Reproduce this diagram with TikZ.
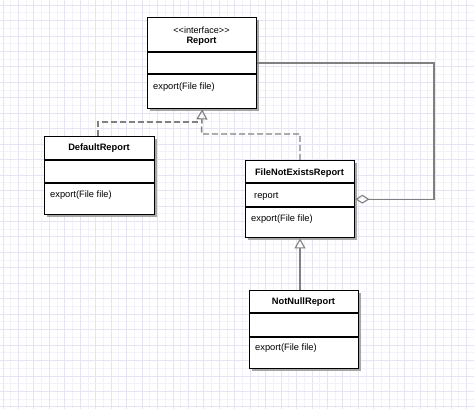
\documentclass[tikz,border=0pt]{standalone}
\usepackage{fontspec}
\setmainfont{Liberation Sans}
\usetikzlibrary{arrows.meta,shadows}
\definecolor{gridc}{RGB}{228,228,244}
\definecolor{gridm}{RGB}{242,242,250}
\definecolor{conn}{RGB}{128,128,128}
\tikzset{
  classbox/.style={draw=black, line width=1.4pt, fill=white, anchor=north west, inner sep=0pt,
    drop shadow={shadow xshift=2pt, shadow yshift=-2pt, fill=black!35, opacity=1}},
  divider/.style={draw=black, line width=1.4pt},
  titletext/.style={font=\fontsize{9.3}{11}\selectfont\bfseries, inner sep=0pt},
  stereo/.style={font=\fontsize{9.1}{11}\selectfont, inner sep=0pt},
  membertext/.style={font=\fontsize{9.3}{11}\selectfont, inner sep=0pt, anchor=west},
  realize/.style={draw=conn, line width=1.4pt, dash pattern=on 6pt off 3pt,
    -{Triangle[open, length=10pt, width=11pt, line width=1.1pt]}},
  realizeplain/.style={draw=conn, line width=1.4pt, dash pattern=on 6pt off 3pt},
  inherit/.style={draw=conn, line width=1.4pt,
    -{Triangle[open, length=10pt, width=11pt, line width=1.1pt]}},
  aggreg/.style={draw=conn, line width=1.4pt,
    -{Diamond[open, length=14pt, width=9pt, line width=1.1pt]}}
}
\begin{document}
\begin{tikzpicture}[x=1pt,y=-1pt]
\useasboundingbox (0,0) rectangle (474,409);
\fill[white] (0,0) rectangle (474,409);
% grid
\foreach \i in {0,...,30} {
  \draw[gridm, line width=0.5pt] ({2.85+15.45*\i+7.7},0) -- ({2.85+15.45*\i+7.7},409);
  \draw[gridm, line width=0.5pt] (0,{5+15.45*\i+7.7}) -- (474,{5+15.45*\i+7.7});
}
\foreach \i in {0,...,30} {
  \draw[gridc, line width=0.6pt] ({2.85+15.45*\i},0) -- ({2.85+15.45*\i},409);
  \draw[gridc, line width=0.6pt] (0,{5+15.45*\i}) -- (474,{5+15.45*\i});
}

% Report
\node[classbox, minimum width=109pt, minimum height=91pt] (report) at (147,17) {};
\draw[divider] (147,52) -- (256,52);
\draw[divider] (147,74) -- (256,74);
\node[stereo] (reportst) at (201.5,30) {{<}{<}interface{>}{>}};
\node[titletext] (reportt) at (201.5,41) {Report};
\node[membertext] (reportm) at (153,87) {export(File file)};

% DefaultReport
\node[classbox, minimum width=110pt, minimum height=78pt] (dflt) at (44,136) {};
\draw[divider] (44,160) -- (154,160);
\draw[divider] (44,183) -- (154,183);
\node[titletext] (dfltt) at (99,148) {DefaultReport};
\node[membertext] (dfltm) at (50,195) {export(File file)};

% FileNotExistsReport
\node[classbox, minimum width=109pt, minimum height=77pt] (fner) at (245,160) {};
\draw[divider] (245,183) -- (354,183);
\draw[divider] (245,207) -- (354,207);
\node[titletext] (fnert) at (299.5,173) {FileNotExistsReport};
\node[membertext] (fnera) at (254,196) {report};
\node[membertext] (fnerm) at (251,219) {export(File file)};

% NotNullReport
\node[classbox, minimum width=109pt, minimum height=78pt] (nnr) at (249,290) {};
\draw[divider] (249,313) -- (358,313);
\draw[divider] (249,337) -- (358,337);
\node[titletext] (nnrt) at (303.5,302) {NotNullReport};
\node[membertext] (nnrm) at (255,348) {export(File file)};

% connectors
\coordinate (j1) at (201.5,122);
\coordinate (j2) at (201.5,134);
\coordinate (c1) at (434,63);
\draw[realizeplain] (dflt.north -| 98,0) |- (j1);
\draw[realize] (fner.north -| 300,0) |- (j2) -- (report.south);
\draw[inherit] (nnr.north -| 300,0) -- (fner.south -| 300,0);
\draw[aggreg] (report.east) -| (c1 |- fner.east) -- (fner.east);
\end{tikzpicture}
\end{document}
